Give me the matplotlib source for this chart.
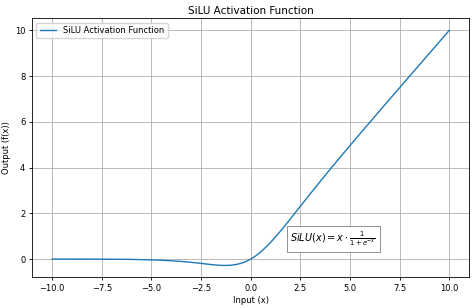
import matplotlib
matplotlib.use("Agg")
import matplotlib.pyplot as plt

# values
x_vals = [-10, -9, -8, -7, -6, -5, -4.5, -4, -3.5, -3, -2.5, -2, -1.75, -1.5, -1.25,
          -1, -0.75, -0.5, -0.25, 0, 0.25, 0.5, 0.75, 1, 1.25, 1.5, 1.75, 2, 2.5,
          3, 3.5, 4, 4.5, 5, 6, 7, 8, 9, 10]
y_vals = [-0.0005, -0.001, -0.003, -0.006, -0.015, -0.034, -0.05, -0.072, -0.103,
          -0.142, -0.189, -0.238, -0.260, -0.274, -0.278, -0.269, -0.240, -0.189,
          -0.110, 0.0, 0.140, 0.311, 0.510, 0.731, 0.972, 1.226, 1.490, 1.762,
          2.311, 2.858, 3.395, 3.928, 4.450, 4.967, 5.985, 6.994, 7.997, 8.999, 10.0]

fig, ax = plt.subplots(figsize=(4.74, 3.08), dpi=100)
ax.plot(x_vals, y_vals, color='#1f77b4', linewidth=1.0, label='SiLU Activation Function')

ax.set_title('SiLU Activation Function', fontsize=7.5, pad=3)
ax.set_xlabel('Input (x)', fontsize=6, labelpad=2)
ax.set_ylabel('Output (f(x))', fontsize=6, labelpad=3)
ax.tick_params(labelsize=6, length=2.5, width=0.6, pad=2.5)
for s in ax.spines.values():
    s.set_linewidth(0.6)
ax.grid(True, linewidth=0.6)
ax.legend(loc='upper left', fontsize=6)

ax.text(2, 0.87, r'$SiLU(x) = x \cdot \frac{1}{1 + e^{-x}}$', fontsize=7, va='center',
        bbox=dict(facecolor='white', edgecolor='gray', linewidth=0.6, pad=2.5))

plt.subplots_adjust(left=0.068, right=0.99, top=0.94, bottom=0.1)
plt.savefig('out.png', dpi=100)
